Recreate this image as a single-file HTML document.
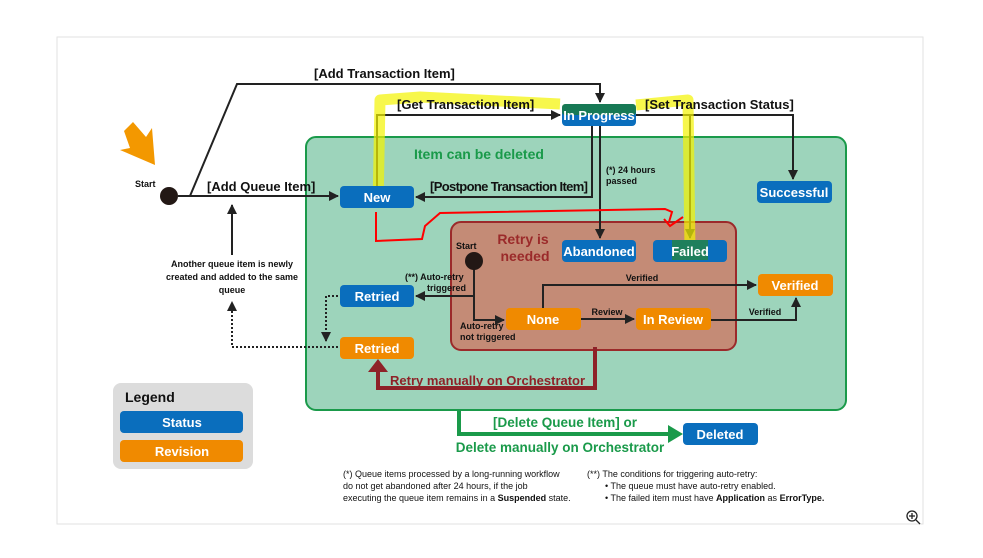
<!DOCTYPE html>
<html><head><meta charset="utf-8"><style>
html,body{margin:0;padding:0;background:#fff;}
svg{display:block;font-family:"Liberation Sans",sans-serif;}
.n{fill:#fff;font-weight:bold;font-size:13px;text-anchor:middle;}
.l{font-weight:bold;font-size:13px;fill:#111;}
.s{font-weight:bold;font-size:9px;fill:#111;}
.f{font-size:9px;fill:#111;}
</style></head><body>
<svg width="983" height="558" viewBox="0 0 983 558">
<defs>
<marker id="a" viewBox="0 0 10 10" refX="9" refY="5" markerWidth="5" markerHeight="5" orient="auto"><path d="M0,0L10,5L0,10z" fill="#222"/></marker>
</defs>
<rect x="57" y="37" width="866" height="487" fill="#fff" stroke="#e2e2e2"/>
<rect x="306" y="137" width="540" height="273" rx="10" fill="#9dd4bb" stroke="#1a9a4a" stroke-width="2"/>
<text x="414" y="159" font-weight="bold" font-size="14" fill="#1a9a4a">Item can be deleted</text>
<rect x="451" y="222" width="285" height="128" rx="10" fill="#c48b76" stroke="#9b2a2a" stroke-width="2"/>
<text x="523" y="244" font-weight="bold" font-size="14" fill="#9b2a2a" text-anchor="middle">Retry is</text>
<text x="525" y="261" font-weight="bold" font-size="14" fill="#9b2a2a" text-anchor="middle">needed</text>
<polygon points="124,131 133,122 146,137 152,128 155,165 120,150 130,148" fill="#f39800"/>
<g fill="none" stroke="#222" stroke-width="2">
<path d="M190,196 L237,84 L600,84 L600,102" marker-end="url(#a)"/>
<path d="M178,196 L338,196" marker-end="url(#a)"/>
<path d="M377,186 L377,115 L560,115" marker-end="url(#a)"/>
<path d="M592,126 L592,197 L416,197" marker-end="url(#a)"/>
<path d="M600,126 L600,238" marker-end="url(#a)"/>
<path d="M636,115 L793,115 L793,179" marker-end="url(#a)"/>
<path d="M690,115 L690,238" marker-end="url(#a)"/>
<path d="M232,255 L232,205" marker-end="url(#a)"/>
<path d="M474,261 L474,320 L504,320" marker-end="url(#a)"/>
<path d="M474,296 L416,296" marker-end="url(#a)"/>
<path d="M543,308 L543,285 L756,285" marker-end="url(#a)"/>
<path d="M581,319 L634,319" marker-end="url(#a)"/>
<path d="M711,320 L796,320 L796,298" marker-end="url(#a)"/>
</g>
<!-- yellow highlight -->
<path d="M378,208 L380,100 L420,97 L560,104 M636,105 L688,100 L690,250" fill="none" stroke="#f4f400" stroke-width="11" opacity="0.7" stroke-linejoin="round"/>
<g fill="none" stroke="#222" stroke-width="2" stroke-dasharray="2,2">
<path d="M338,347 L232,347 L232,302" marker-end="url(#a)"/>
<path d="M338,296 L326,296 L326,341" marker-end="url(#a)"/>
</g>
<path d="M595,347 L595,388 L378,388 L378,370" fill="none" stroke="#8e2228" stroke-width="4"/>
<polygon points="368,372 378,359 388,372" fill="#8e2228"/>
<text x="390" y="385" font-weight="bold" font-size="13" fill="#8e2228">Retry manually on Orchestrator</text>
<path d="M459,410 L459,434 L672,434" fill="none" stroke="#1a9a4a" stroke-width="4"/>
<polygon points="668,425 683,434 668,443" fill="#1a9a4a"/>
<text x="565" y="427" font-weight="bold" font-size="13.5" fill="#1a9a4a" text-anchor="middle">[Delete Queue Item] or</text>
<text x="560" y="452" font-weight="bold" font-size="13.5" fill="#1a9a4a" text-anchor="middle">Delete manually on Orchestrator</text>
<path d="M376,212 L376,241 L422,239 L425,226 L440,213 L665,209 L672,212 L669,222 M664,219 L670,226 L683,217" fill="none" stroke="#f00" stroke-width="2"/>
<circle cx="169" cy="196" r="9" fill="#231815"/>
<circle cx="474" cy="261" r="9" fill="#231815"/>
<text x="135" y="187" class="s">Start</text>
<text x="456" y="249" class="s">Start</text>
<text x="314" y="78" class="l" font-size="13.5">[Add Transaction Item]</text>
<text x="397" y="109" class="l" font-size="13.5">[Get Transaction Item]</text>
<text x="645" y="109" class="l" font-size="13.5">[Set Transaction Status]</text>
<text x="207" y="191" class="l" font-size="12">[Add Queue Item]</text>
<text x="430" y="191" class="l" font-size="12" textLength="158">[Postpone Transaction Item]</text>
<text x="606" y="173" class="s">(*) 24 hours</text>
<text x="606" y="184" class="s">passed</text>
<text x="232" y="267" class="s" text-anchor="middle" font-size="9.5">Another queue item is newly</text>
<text x="232" y="280" class="s" text-anchor="middle" font-size="9.5">created and added to the same</text>
<text x="232" y="293" class="s" text-anchor="middle" font-size="9.5">queue</text>
<text x="405" y="280" class="s">(**) Auto-retry</text>
<text x="427" y="291" class="s">triggered</text>
<text x="460" y="329" class="s">Auto-retry</text>
<text x="460" y="340" class="s">not triggered</text>
<text x="642" y="281" class="s" text-anchor="middle">Verified</text>
<text x="607" y="315" class="s" text-anchor="middle">Review</text>
<text x="765" y="315" class="s" text-anchor="middle">Verified</text>
<g fill="#0a6ebd">
<rect x="562" y="104" width="74" height="22" rx="4"/>
<rect x="340" y="186" width="74" height="22" rx="4"/>
<rect x="757" y="181" width="75" height="22" rx="4"/>
<rect x="562" y="240" width="74" height="22" rx="4"/>
<rect x="653" y="240" width="74" height="22" rx="4"/>
<rect x="340" y="285" width="74" height="22" rx="4"/>
<rect x="683" y="423" width="75" height="22" rx="4"/>
</g>
<rect x="562" y="104" width="74" height="11" rx="3" fill="#1d7d2a" opacity="0.7"/>
<rect x="672" y="240" width="36" height="20" fill="#2d8a1a" opacity="0.6"/>
<g fill="#f08a00">
<rect x="758" y="274" width="75" height="22" rx="4"/>
<rect x="506" y="308" width="75" height="22" rx="4"/>
<rect x="636" y="308" width="75" height="22" rx="4"/>
<rect x="340" y="337" width="74" height="22" rx="4"/>
</g>
<text x="599" y="120" class="n" font-size="11.5">In Progress</text>
<text x="377" y="202" class="n">New</text>
<text x="794" y="197" class="n" font-size="12">Successful</text>
<text x="599" y="256" class="n" font-size="12">Abandoned</text>
<text x="690" y="256" class="n" fill="#ff0">Failed</text>
<text x="377" y="301" class="n">Retried</text>
<text x="720" y="439" class="n">Deleted</text>
<text x="795" y="290" class="n">Verified</text>
<text x="543" y="324" class="n">None</text>
<text x="673" y="324" class="n" font-size="12">In Review</text>
<text x="377" y="353" class="n">Retried</text>
<rect x="113" y="383" width="140" height="86" rx="8" fill="#dcdcdc"/>
<rect x="120" y="411" width="123" height="22" rx="4" fill="#0a6ebd"/>
<rect x="120" y="440" width="123" height="22" rx="4" fill="#f08a00"/>
<text x="125" y="402" font-weight="bold" font-size="14" fill="#111">Legend</text>
<text x="182" y="427" class="n">Status</text>
<text x="182" y="456" class="n">Revision</text>
<text x="343" y="477" class="f">(*) Queue items processed by a long-running workflow</text>
<text x="343" y="489" class="f">do not get abandoned after 24 hours, if the job</text>
<text x="343" y="501" class="f">executing the queue item remains in a <tspan font-weight="bold">Suspended</tspan> state.</text>
<text x="587" y="477" class="f">(**) The conditions for triggering auto-retry:</text>
<text x="605" y="489" class="f">• The queue must have auto-retry enabled.</text>
<text x="605" y="501" class="f">• The failed item must have <tspan font-weight="bold">Application</tspan> as <tspan font-weight="bold">ErrorType.</tspan></text>
<circle cx="912" cy="516" r="5" fill="none" stroke="#222" stroke-width="1.3"/>
<path d="M916,520 L920,524 M909,516 L915,516 M912,513 L912,519" stroke="#222" stroke-width="1.3"/>
</svg>
</body></html>
